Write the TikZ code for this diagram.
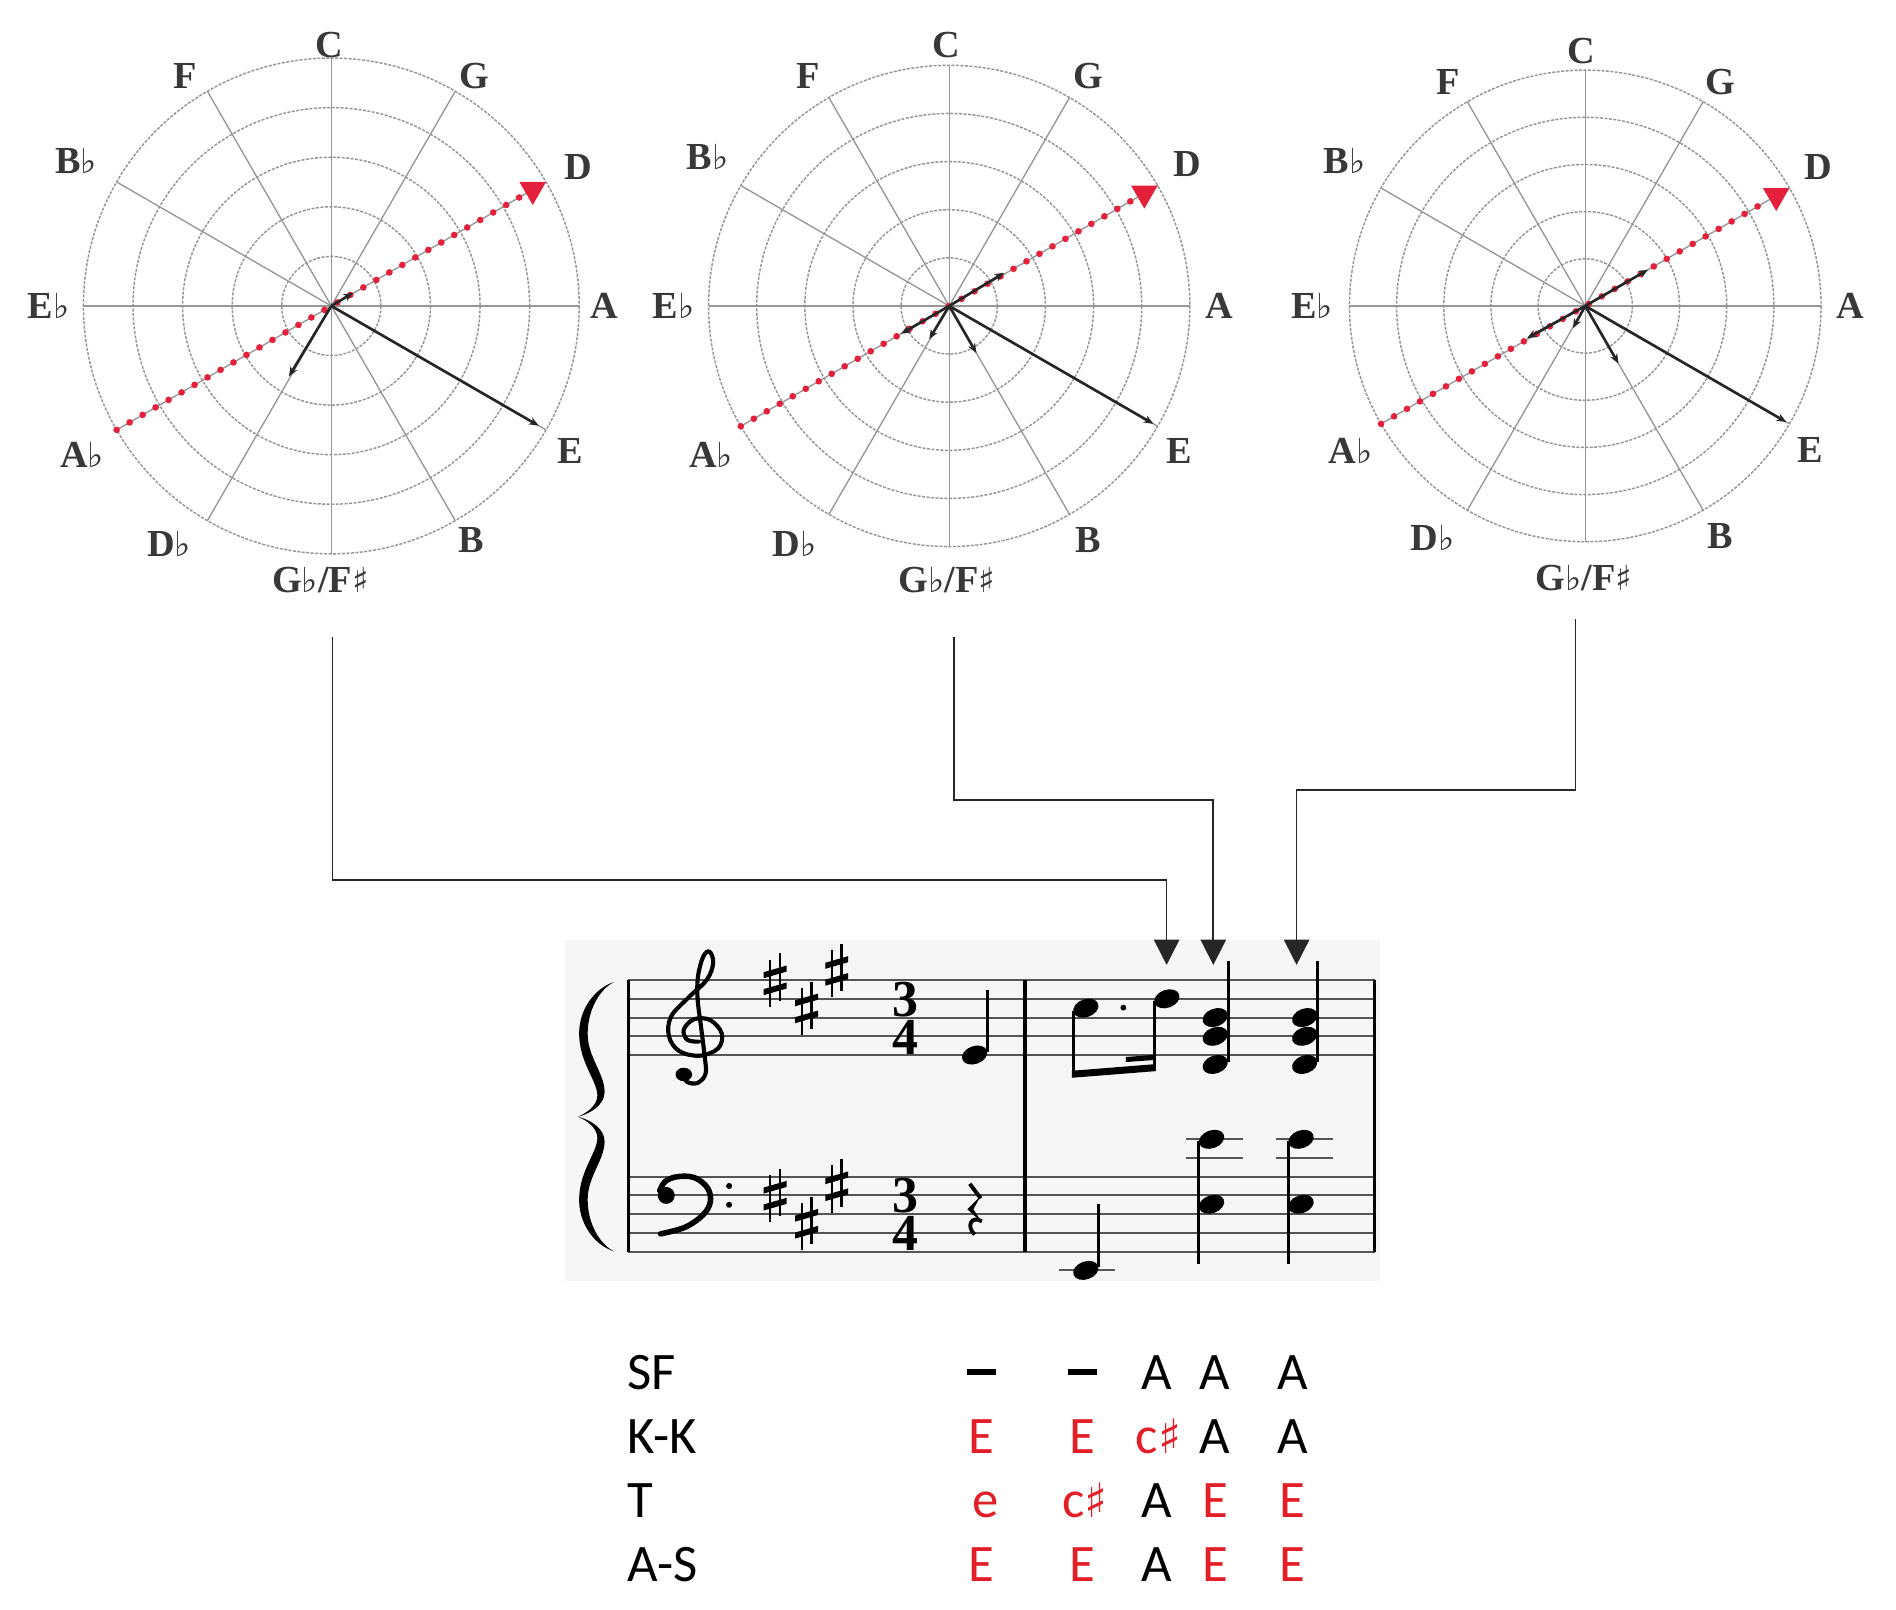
\documentclass[tikz,border=0pt]{standalone}
\usepackage{fontspec}
\setmainfont{Liberation Serif}
\newfontfamily\tabfont{Carlito}
\newfontfamily\symserif{DejaVu Serif}
\newfontfamily\symsans{DejaVu Sans}
\usetikzlibrary{arrows.meta,calc}
\definecolor{dotred}{RGB}{228,32,60}
\definecolor{txtred}{RGB}{228,30,38}
\definecolor{gridgray}{RGB}{150,150,150}
\definecolor{scorebg}{RGB}{246,246,246}
\definecolor{staffgray}{RGB}{85,85,85}
\newcommand{\kflat}{{\symserif\mdseries\scalebox{0.9}{♭}}}
\newcommand{\ksharp}{{\symserif\mdseries\scalebox{0.9}{♯}}}
\newcommand{\tsharp}{{\symsans\scalebox{0.9}{♯}}}
\tikzset{
  gridline/.style={gridgray, line width=0.12mm, dash pattern=on 0.25mm off 0.12mm},
  spoke/.style={gridgray, line width=0.11mm},
  keylbl/.style={font=\bfseries\fontsize{9pt}{10pt}\selectfont, text=black!78, inner sep=0pt},
  redpath/.style={dotred, line width=0.55mm, line cap=round, dash pattern=on 0mm off 1.24mm},
  vec/.style={black!85, line width=0.22mm, -{Stealth[length=0.8mm,width=0.65mm]}},
  conn/.style={black!85, line width=0.14mm, -{Triangle[length=2.1mm,width=2.1mm]}},
  staff/.style={staffgray, line width=0.16mm},
  barline/.style={black, line width=0.26mm},
  stem/.style={black, line width=0.24mm},
  ledger/.style={staffgray, line width=0.18mm},
  tsig/.style={font=\bfseries\fontsize{12.2pt}{8.96pt}\selectfont, inner sep=0pt, align=center},
  rowlbl/.style={font=\tabfont\fontsize{12.4pt}{14pt}\selectfont, anchor=base west, inner sep=0pt},
  cell/.style={font=\tabfont\fontsize{12.4pt}{14pt}\selectfont, anchor=base, inner sep=0pt},
  redcell/.style={cell, text=txtred},
}
\newcommand{\wheelgrid}[2]{%
  \foreach \k in {1,...,5} \draw[gridline] (#1) circle[radius=\k*#2/5];
  \foreach \a in {0,30,...,330} \draw[spoke] (#1) -- ++(\a:#2);
}
\newcommand{\redaxis}[2]{%
  \begin{scope}[shift={(#1)}, rotate=30]
    \draw[redpath] (-#2,0) -- (#2-19,0);
    \fill[dotred] (#2,0) -- (#2-19,11) -- (#2-19,-11) -- cycle;
  \end{scope}
}
\newcommand{\nhead}[2]{\fill[rotate around={20:(#1,#2)}] (#1,#2) ellipse[x radius=10.8, y radius=7.4];}
\newcommand{\sharpsign}[2]{%
  \begin{scope}[shift={(#1,#2)}]
    \draw[line width=0.19mm] (-4,-17) -- (-4,22);
    \draw[line width=0.19mm] (4,-22) -- (4,17);
    \fill (-9.5,-6.5) -- (9.5,-12) -- (9.5,-7) -- (-9.5,-1.5) -- cycle;
    \fill (-9.5,7.5) -- (9.5,2) -- (9.5,7) -- (-9.5,12.5) -- cycle;
  \end{scope}
}
\begin{document}
\begin{tikzpicture}[x=0.1mm, y=-0.1mm]
\useasboundingbox (0,0) rectangle (1568,1331);
\fill[white] (0,0) rectangle (1568,1331);

% ---------- circles ----------
\coordinate (c1) at (274,253);
\coordinate (c2) at (785,253);
\coordinate (c3) at (1311,253);
\wheelgrid{c1}{205}
\wheelgrid{c2}{199}
\wheelgrid{c3}{195}

% labels circle 1
\foreach \n/\dx/\dy/\t in {C/-2/-216/C, G/118/-190/G, D/204/-115/D, A/226/0/A, E/198/120/E, B/116/194/B, Db/-134/197/{D\kflat}, Ab/-206/123/{A\kflat}, Eb/-234/0/{E\kflat}, Bb/-211/-120/{B\kflat}, F/-121/-190/F}
  \node[keylbl] (wa\n) at ($(c1)+(\dx,\dy)$) {\t};
\node[keylbl] (waGF) at ($(c1)+(-9,227)$) {G\kflat/F\ksharp};
% labels circle 2
\foreach \n/\dx/\dy/\t in {C/-2/-216/C, G/115/-190/G, D/197/-117/D, A/223/0/A, E/190/120/E, B/115/194/B, Db/-128/197/{D\kflat}, Ab/-197/123/{A\kflat}, Eb/-228/0/{E\kflat}, Bb/-200/-123/{B\kflat}, F/-117/-190/F}
  \node[keylbl] (wb\n) at ($(c2)+(\dx,\dy)$) {\t};
\node[keylbl] (wbGF) at ($(c2)+(-2,227)$) {G\kflat/F\ksharp};
% labels circle 3
\foreach \n/\dx/\dy/\t in {C/-3/-211/C, G/112/-185/G, D/193/-115/D, A/219/0/A, E/186/119/E, B/112/190/B, Db/-126/192/{D\kflat}, Ab/-194/120/{A\kflat}, Eb/-226/0/{E\kflat}, Bb/-199/-120/{B\kflat}, F/-113/-185/F}
  \node[keylbl] (wc\n) at ($(c3)+(\dx,\dy)$) {\t};
\node[keylbl] (wcGF) at ($(c3)+(-1,225)$) {G\kflat/F\ksharp};

% red axes
\redaxis{c1}{205}
\redaxis{c2}{199}
\redaxis{c3}{195}

% black vectors
\draw[vec] (c1) -- ++(30:198);
\draw[vec] (c1) -- ++(121:68);
\draw[vec] (c1) -- ++(-31:21);

\draw[vec] (c2) -- ++(30:195);
\draw[vec] (c2) -- ++(-31:53);
\draw[vec] (c2) -- ++(150:46);
\draw[vec] (c2) -- ++(121:32);
\draw[vec] (c2) -- ++(60:45);

\draw[vec] (c3) -- ++(30:192);
\draw[vec] (c3) -- ++(151:55);
\draw[vec] (c3) -- ++(-30:60);
\draw[vec] (c3) -- ++(119:21);
\draw[vec] (c3) -- ++(60:55);

% ---------- score ----------
\fill[scorebg] (467,777) rectangle (1141,1059);
\foreach \y in {810.5,826,841.5,857,872.5,973.1,988.6,1004.1,1019.6,1035.1}
  \draw[staff] (519.6,\y) -- (1137,\y);
\draw[barline] (519.6,810.5) -- (519.6,1035.1);
\draw[barline] (847.7,810.5) -- (847.7,1035.1);
\draw[barline] (1137,810.5) -- (1137,1035.1);

% ---------- connectors ----------
\coordinate (s1) at (275,527);  \coordinate (k1) at (964.8,727.8);  \coordinate (t1) at (964.8,798);
\coordinate (s2) at (789,527);  \coordinate (k2) at (1003.4,661.6); \coordinate (t2) at (1003.4,798);
\coordinate (s3) at (1303,512); \coordinate (k3) at (1072.3,653.3); \coordinate (t3) at (1072.3,798);
\draw[conn] (s1) |- (k1) -- (t1);
\draw[conn] (s2) |- (k2) -- (t2);
\draw[conn] (s3) |- (k3) -- (t3);

% brace
\begin{scope}[shift={(508,812)}]
 \fill (0,0) .. controls (-18,6) and (-30,25) .. (-29,45) .. controls (-28,68) and (-14,82) .. (-14,94)
   .. controls (-14,102) and (-22,108) .. (-30,111.5)
   .. controls (-20,109) and (-8,102) .. (-8,91) .. controls (-8,76) and (-22,62) .. (-22,43)
   .. controls (-22,23) and (-12,6) .. (0,0) -- cycle;
\end{scope}
\begin{scope}[shift={(508,1035)}, yscale=-1]
 \fill (0,0) .. controls (-18,6) and (-30,25) .. (-29,45) .. controls (-28,68) and (-14,82) .. (-14,94)
   .. controls (-14,102) and (-22,108) .. (-30,111.5)
   .. controls (-20,109) and (-8,102) .. (-8,91) .. controls (-8,76) and (-22,62) .. (-22,43)
   .. controls (-22,23) and (-12,6) .. (0,0) -- cycle;
\end{scope}

% treble clef
\begin{scope}[shift={(575,856.8)}, xscale=19, yscale=-15.5]
 \draw[line width=0.34mm, line cap=round] plot[smooth, tension=0.6] coordinates {
  (-0.55,-2.05) (-0.35,-2.45) (0.1,-2.5) (0.45,-2.0) (0.4,-1.0) (0.25,0.5) (0.1,2.0) (0.12,3.2)
  (0.35,4.25) (0.62,4.5) (0.78,3.9) (0.5,3.0) (-0.3,2.05) (-1.05,1.05) (-1.15,0.0) (-0.7,-0.8)
  (0.2,-1.05) (1.0,-0.65) (1.15,0.15) (0.65,0.85) (-0.05,0.9) (-0.5,0.35) (-0.35,-0.2) (0.15,-0.3)};
 \fill (-0.5,-2.05) circle[radius=0.36];
\end{scope}
% bass clef
\begin{scope}[shift={(551,988.6)}, xscale=15.5, yscale=-15.5]
 \fill (0,0) circle[radius=0.45];
 \draw[line width=0.46mm, line cap=round] plot[smooth, tension=0.6] coordinates {
  (-0.35,0.25) (-0.05,0.75) (0.6,1.0) (1.5,0.95) (2.2,0.4) (2.35,-0.35) (1.95,-1.05) (1.0,-1.7) (-0.3,-2.05)};
\end{scope}
\fill (603,980.8) circle[radius=2.5];
\fill (603,996.3) circle[radius=2.5];

% key signatures
\sharpsign{641}{810.5}\sharpsign{667}{833.7}\sharpsign{692}{802.7}
\sharpsign{641}{988.6}\sharpsign{667}{1011.8}\sharpsign{692}{980.8}

% time signatures
\node[tsig] (tsa) at (748.5,842) {3\\4};
\node[tsig] (tsb) at (748.5,1004.6) {3\\4};

% measure 1
\nhead{806}{872.5}
\draw[stem] (816.5,870) -- (816.5,819);
\begin{scope}[shift={(806,1000)}]
 \draw[line width=0.32mm, line join=round] (-4,-21) -- (5,-9);
 \fill (5,-11) -- (-6,0) -- (6,11) -- (-1,0) -- cycle;
 \draw[line width=0.32mm] (6,10) .. controls (-3,5) and (-7,14) .. (0,21);
\end{scope}

% measure 2, treble
\nhead{898}{833.7}
\nhead{965}{826}
\draw[stem] (887.7,836) -- (887.7,891);
\draw[stem] (954.7,828) -- (954.7,885.5);
\fill (886.5,891.3) -- (955.9,885.8) -- (955.9,880) -- (886.5,885.5) -- cycle;
\fill (931,878.3) -- (955.9,876.5) -- (955.9,872.3) -- (931,874.1) -- cycle;
\fill (929,833.3) circle[radius=2.4];

\nhead{1005}{841.5}\nhead{1005}{857}\nhead{1005}{880.3}
\draw[stem] (1015.8,878) -- (1015.8,795);
\nhead{1079}{841.5}\nhead{1079}{857}\nhead{1079}{880.3}
\draw[stem] (1089.8,878) -- (1089.8,795);

% measure 2, bass
\draw[ledger] (876,1050.6) -- (922,1050.6);
\nhead{898}{1050.6}
\draw[stem] (908.5,1048) -- (908.5,996);

\draw[ledger] (981,957.6) -- (1028,957.6);
\draw[ledger] (981,942.2) -- (1028,942.2);
\nhead{1002}{942.2}\nhead{1002}{995.9}
\draw[stem] (991.4,944) -- (991.4,1045);

\draw[ledger] (1055,957.6) -- (1102,957.6);
\draw[ledger] (1055,942.2) -- (1102,942.2);
\nhead{1076}{942.2}\nhead{1076}{995.9}
\draw[stem] (1065.4,944) -- (1065.4,1045);

% ---------- table ----------
\node[rowlbl] (rSF) at (518,1149) {SF};
\node[rowlbl] (rKK) at (518,1202) {K-K};
\node[rowlbl] (rT)  at (518,1255) {T};
\node[rowlbl] (rAS) at (518,1308) {A-S};

\node[cell] (a1) at (812,1149) {\rule[1.15mm]{2.4mm}{0.5mm}};
\node[cell] (a2) at (895,1149) {\rule[1.15mm]{2.4mm}{0.5mm}};
\node[cell] (a3) at (957,1149) {A};
\node[cell] (a4) at (1004.5,1149) {A};
\node[cell] (a5) at (1069,1149) {A};

\node[redcell] (b1) at (812,1202) {E};
\node[redcell] (b2) at (895,1202) {E};
\node[redcell] (b3) at (958,1202) {c\tsharp};
\node[cell] (b4) at (1005,1202) {A};
\node[cell] (b5) at (1069,1202) {A};

\node[redcell] (d1) at (815,1255) {e};
\node[redcell] (d2) at (897,1255) {c\tsharp};
\node[cell] (d3) at (957,1255) {A};
\node[redcell] (d4) at (1005,1255) {E};
\node[redcell] (d5) at (1069,1255) {E};

\node[redcell] (e1) at (812,1308) {E};
\node[redcell] (e2) at (895,1308) {E};
\node[cell] (e3) at (957,1308) {A};
\node[redcell] (e4) at (1005,1308) {E};
\node[redcell] (e5) at (1069,1308) {E};
\end{tikzpicture}
\end{document}
